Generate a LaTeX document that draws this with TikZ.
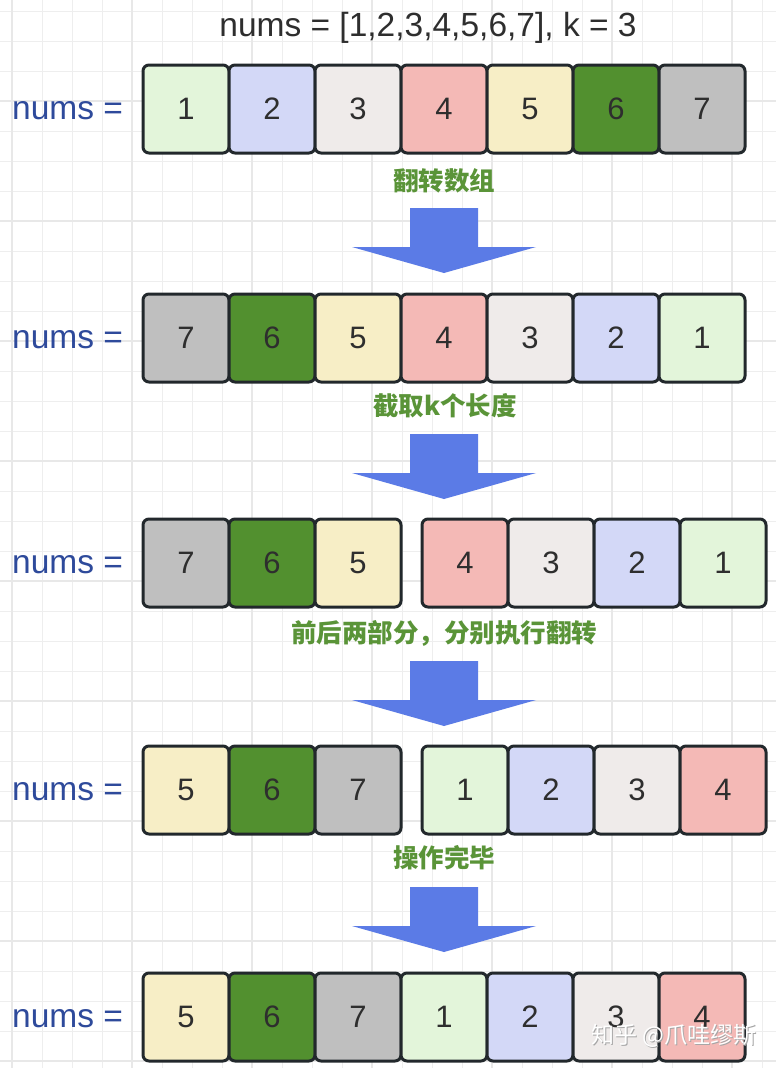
\documentclass[tikz,border=0pt]{standalone}
\usepackage{fontspec}
\setmainfont{Liberation Sans}
\newfontfamily\cjk{Noto Sans CJK SC}
\definecolor{c1}{HTML}{E3F5DA}
\definecolor{c2}{HTML}{D3D8F7}
\definecolor{c3}{HTML}{EFEBEA}
\definecolor{c4}{HTML}{F4B9B6}
\definecolor{c5}{HTML}{F7EEC6}
\definecolor{c6}{HTML}{52902F}
\definecolor{c7}{HTML}{BFBFBF}
\definecolor{edgec}{HTML}{22282C}
\definecolor{numc}{HTML}{2E2E2E}
\definecolor{lblblue}{HTML}{2E4A9B}
\definecolor{lblgreen}{HTML}{5A9438}
\definecolor{arrowblue}{HTML}{5B7BE6}
\definecolor{gridc}{HTML}{EEEEEE}
\definecolor{gridd}{HTML}{E8E8E8}
\tikzset{
  cell/.style={draw=edgec, line width=3pt, rounded corners=6pt, minimum width=86pt, minimum height=88pt, inner sep=0pt, text=numc, font=\fontsize{31}{37}\selectfont},
  numslbl/.style={anchor=west, inner sep=0pt, text=lblblue, font=\fontsize{33.5}{40}\selectfont},
  steplbl/.style={inner sep=0pt, text=lblgreen, font=\cjk\bfseries\fontsize{25.5}{30}\selectfont},
  blockarrow/.style={fill=arrowblue, draw=none},
  gridthin/.style={draw=gridc, line width=1pt},
  gridthick/.style={draw=gridd, line width=2pt}
}
\begin{document}
\begin{tikzpicture}[x=1pt, y=-1pt]
\useasboundingbox (0,0) rectangle (776,1068);
\fill[white] (0,0) rectangle (776,1068);
% grid
\foreach \gx in {12,42,...,762} \draw[gridthin] (\gx,0) -- (\gx,1068);
\foreach \gy in {11,41,...,1061} \draw[gridthin] (0,\gy) -- (776,\gy);
\foreach \gx in {12,132,...,732} \draw[gridthick] (\gx,0) -- (\gx,1068);
\foreach \gy in {101,221,...,1061} \draw[gridthick] (0,\gy) -- (776,\gy);

% title
\node[inner sep=0pt, text=numc, font=\fontsize{33.5}{40}\selectfont] (title) at (428,28) {nums = [1,2,3,4,5,6,7], k = 3};

% row 1
\node[numslbl] (n1) at (12,111) {nums =};
\foreach \v/\c [count=\i] in {1/c1,2/c2,3/c3,4/c4,5/c5,6/c6,7/c7}
  \node[cell, fill=\c] (r1c\i) at ({143+86*(\i-0.5)},109) {\v};

% row 2
\node[numslbl] (n2) at (12,340) {nums =};
\foreach \v/\c [count=\i] in {7/c7,6/c6,5/c5,4/c4,3/c3,2/c2,1/c1}
  \node[cell, fill=\c] (r2c\i) at ({143+86*(\i-0.5)},338) {\v};

% row 3
\node[numslbl] (n3) at (12,565) {nums =};
\foreach \v/\c [count=\i] in {7/c7,6/c6,5/c5}
  \node[cell, fill=\c] (r3a\i) at ({143+86*(\i-0.5)},563) {\v};
\foreach \v/\c [count=\i] in {4/c4,3/c3,2/c2,1/c1}
  \node[cell, fill=\c] (r3b\i) at ({422+86*(\i-0.5)},563) {\v};

% row 4
\node[numslbl] (n4) at (12,792) {nums =};
\foreach \v/\c [count=\i] in {5/c5,6/c6,7/c7}
  \node[cell, fill=\c] (r4a\i) at ({143+86*(\i-0.5)},790) {\v};
\foreach \v/\c [count=\i] in {1/c1,2/c2,3/c3,4/c4}
  \node[cell, fill=\c] (r4b\i) at ({422+86*(\i-0.5)},790) {\v};

% row 5
\node[numslbl] (n5) at (12,1019) {nums =};
\foreach \v/\c [count=\i] in {5/c5,6/c6,7/c7,1/c1,2/c2,3/c3,4/c4}
  \node[cell, fill=\c] (r5c\i) at ({143+86*(\i-0.5)},1017) {\v};

% step labels
\node[steplbl] (s1) at (444,181) {翻转数组};
\node[steplbl] (s2) at (445,406) {截取k个长度};
\node[steplbl] (s3) at (444,633) {前后两部分，分别执行翻转};
\node[steplbl] (s4) at (444,858) {操作完毕};

% block arrows
\foreach \t in {208,434,661,887}
  \fill[blockarrow] (410,\t) -- (478,\t) -- (478,\t+39) -- (536,\t+39) -- (444,\t+65) -- (352,\t+39) -- (410,\t+39) -- cycle;

% watermark
\node[inner sep=0pt, text=black!35, font=\cjk\fontsize{23}{28}\selectfont] (wms) at (675,1037) {知乎 @爪哇缪斯};
\node[inner sep=0pt, text=white, font=\cjk\fontsize{23}{28}\selectfont] (wm) at (674,1036) {知乎 @爪哇缪斯};
\end{tikzpicture}
\end{document}
